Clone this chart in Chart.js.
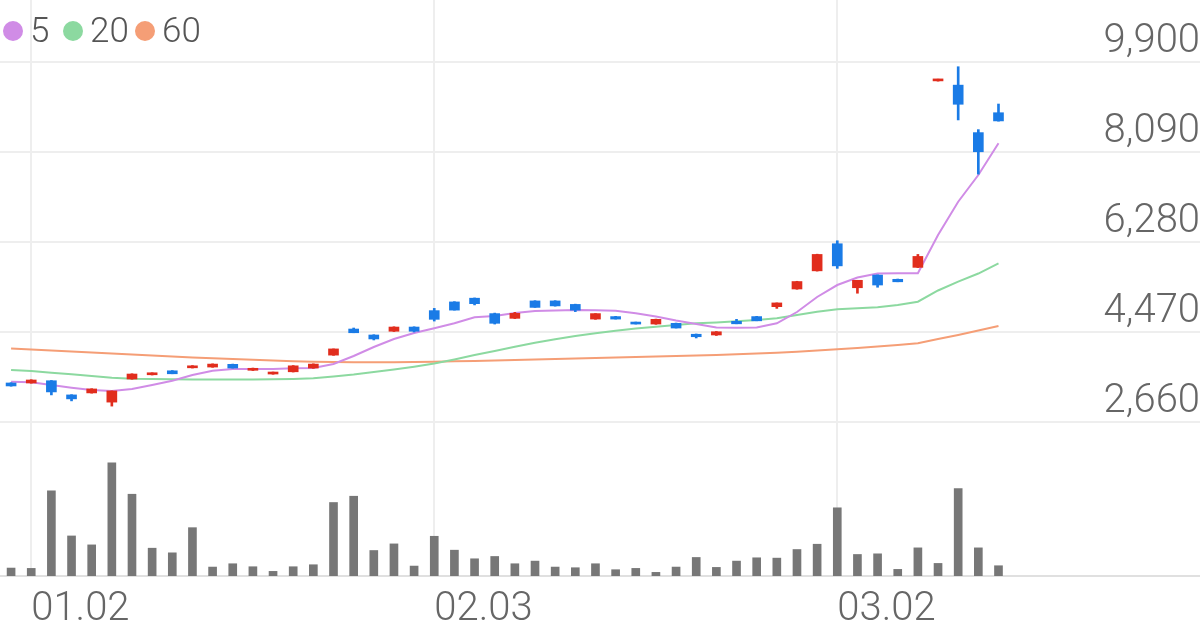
<!DOCTYPE html>
<html>
<head>
<meta charset="utf-8">
<script src="https://cdn.jsdelivr.net/npm/chart.js@4.4.1/dist/chart.umd.min.js"></script>
<style>
  html, body { margin: 0; padding: 0; background: #fff; }
  #wrap { position: relative; width: 1200px; height: 630px; overflow: hidden; }
  .dot { position: absolute; top: 21px; width: 20px; height: 20px; border-radius: 50%; }
  .lbl { position: absolute; top: 13px; font: 300 35px/35px Roboto, sans-serif; color: #555; }
</style>
</head>
<body>
<div id="wrap">
  <canvas id="chart" width="1200" height="630"></canvas>
  <span class="dot" style="left:3px;background:#d08ce6"></span><span class="lbl" style="left:30px">5</span>
  <span class="dot" style="left:63px;background:#8cd9a0"></span><span class="lbl" style="left:90px">20</span>
  <span class="dot" style="left:135px;background:#f59e76"></span><span class="lbl" style="left:162px">60</span>
</div>
<script>
// 일자 (2019.12.30 ~ 2020.03.12)
const dates = ['12.30',
  '01.02','01.03','01.06','01.07','01.08','01.09','01.10','01.13','01.14','01.15',
  '01.16','01.17','01.20','01.21','01.22','01.23','01.28','01.29','01.30','01.31',
  '02.03','02.04','02.05','02.06','02.07','02.10','02.11','02.12','02.13','02.14',
  '02.17','02.18','02.19','02.20','02.21','02.24','02.25','02.26','02.27','02.28',
  '03.02','03.03','03.04','03.05','03.06','03.09','03.10','03.11','03.12'];

const opens  = [3445,3445,3490,3205,3245,3060,3525,3610,3690,3750,3765,3820,3700,3625,3670,3745,4005,4530,4410,4485,
                4570,4900,5075,5150,4840,4745,5095,5095,5025,4730,4780,4665,4630,4645,4425,4410,4685,4780,4980,5335,
                5700,6245,5360,5615,5530,5770,9520,9435,8480,8880];
const highs  = [3450,3510,3495,3210,3330,3285,3630,3650,3695,3795,3830,3825,3745,3665,3795,3830,4130,4550,4415,4575,
                4575,4945,5080,5155,4850,4865,5100,5100,5030,4840,4785,4670,4730,4650,4430,4480,4725,4785,5055,5490,
                6035,6305,5510,5620,5535,6030,9555,9805,8540,9055];
const lows   = [3380,3440,3205,3085,3240,2980,3520,3605,3630,3745,3760,3745,3695,3620,3665,3740,4000,4455,4310,4480,
                4470,4690,4910,5015,4630,4740,4965,4990,4880,4725,4730,4630,4625,4550,4350,4400,4635,4695,4945,5330,
                5695,5750,5250,5370,5480,5765,9515,8735,7645,8710];
const closes = [3385,3505,3265,3125,3325,3285,3625,3645,3630,3790,3825,3745,3740,3660,3790,3825,4130,4455,4330,4570,
                4485,4725,4910,5040,4645,4845,4965,4995,4910,4840,4730,4630,4725,4550,4375,4475,4635,4695,5055,5485,
                6030,5800,5510,5415,5480,5990,9550,9050,8095,8715];

const ma5  = [3470,3458,3404,3350,3304,3283,3324,3404,3491,3605,3692,3726,3726,3726,3740,3746,3826,3987,4168,4329,
              4450,4544,4645,4766,4792,4852,4892,4902,4912,4906,4898,4846,4782,4701,4631,4561,4556,4561,4645,4872,
              5174,5415,5566,5646,5650,5650,6421,7090,7627,8265];
const ma20 = [3706,3686,3651,3619,3585,3551,3531,3525,3519,3515,3515,3515,3515,3519,3525,3539,3575,3615,3666,3716,
              3772,3836,3917,4007,4088,4174,4255,4323,4390,4444,4496,4540,4577,4611,4645,4661,4685,4711,4746,4812,
              4878,4927,4947,4967,5013,5079,5305,5482,5646,5852];
const ma60 = [4138,4118,4098,4078,4058,4038,4017,3997,3977,3957,3941,3927,3911,3897,3883,3873,3867,3863,3861,3863,
              3867,3873,3881,3887,3897,3907,3917,3927,3937,3947,3957,3967,3977,3987,3997,4007,4022,4038,4054,4072,
              4098,4122,4148,4178,4209,4243,4329,4410,4500,4591];

const volumes = [24000,23000,257000,121000,94000,342000,247000,84000,70000,146000,
                 27000,37000,28000,14000,28000,34000,222000,241000,77000,97000,
                 30000,120000,78000,52000,59000,37000,45000,27000,25000,37000,
                 19000,23000,11000,27000,56000,26000,45000,55000,54000,80000,
                 96000,206000,65000,67000,20000,85000,38000,264000,85000,31000];

const priceTicks = [2660, 4470, 6280, 8090, 9900];

const UP = '#e12d1d', DOWN = '#1a7be6';
const candleColor = closes.map((c, i) => c >= opens[i] ? UP : DOWN);
const monthStarts = dates.map((d, i) => i).filter(i => i > 0 && dates[i].slice(0, 2) !== dates[i - 1].slice(0, 2));

const pts = arr => arr.map((v, i) => ({ x: i, y: v }));
const maLine = (label, arr, color, order) => ({
  type: 'line', label, data: pts(arr), yAxisID: 'y', borderColor: color,
  borderWidth: 2, pointRadius: 0, tension: 0, order
});

new Chart(document.getElementById('chart'), {
  type: 'bar',
  data: {
    datasets: [
      {
        label: 'body', data: opens.map((o, i) => ({ x: i, y: [o, closes[i]] })), yAxisID: 'y',
        backgroundColor: candleColor, barThickness: 10, minBarLength: 2, grouped: false, order: 0
      },
      {
        label: 'wick', data: lows.map((l, i) => ({ x: i, y: [l, highs[i]] })), yAxisID: 'y',
        backgroundColor: candleColor, barThickness: 2, grouped: false, order: 1
      },
      maLine('5', ma5, '#d08ce6', 2),
      maLine('20', ma20, '#8cd9a0', 3),
      maLine('60', ma60, '#f59e76', 4),
      {
        label: 'volume', data: pts(volumes), yAxisID: 'vol',
        backgroundColor: '#777777', barThickness: 8, grouped: false, order: 5
      }
    ]
  },
  options: {
    responsive: false,
    animation: false,
    devicePixelRatio: 1,
    layout: { padding: 0 },
    plugins: { legend: { display: false }, tooltip: { enabled: false } },
    scales: {
      x: {
        type: 'linear', min: -0.55, max: 59, offset: false,
        afterBuildTicks: s => { s.ticks = monthStarts.map(v => ({ value: v })); },
        afterFit: s => { s.height = 54; s.paddingLeft = 0; s.paddingRight = 0; },
        grid: { color: '#eeeeee', lineWidth: 2, drawTicks: false, offset: false },
        border: { display: true, color: '#e0e0e0', width: 2 },
        ticks: {
          align: 'start', padding: 10, color: '#666',
          font: { family: 'Roboto', size: 40, weight: 300 },
          callback: v => dates[v]
        }
      },
      y: {
        position: 'right', min: -437, max: 11147,
        afterBuildTicks: s => { s.ticks = priceTicks.map(v => ({ value: v })); },
        afterFit: s => { s.paddingTop = 0; s.paddingBottom = 0; },
        grid: { color: '#eeeeee', lineWidth: 2, drawTicks: false },
        border: { display: false },
        ticks: {
          mirror: true, padding: 0, labelOffset: -20, color: '#666',
          font: { family: 'Roboto', size: 40, weight: 300 },
          callback: v => v.toLocaleString('en-US')
        }
      },
      vol: {
        position: 'left', display: false, min: 0, max: 1740000
      }
    }
  }
});
</script>
</body>
</html>
